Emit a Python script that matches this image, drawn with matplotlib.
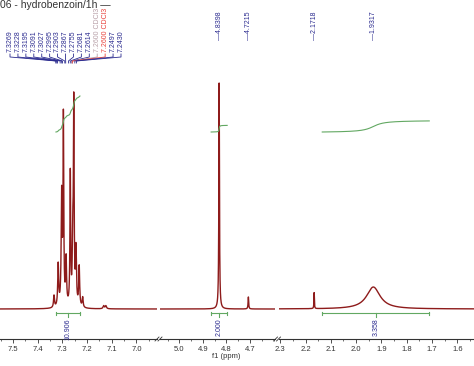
import numpy as np
import matplotlib.pyplot as plt
from matplotlib.lines import Line2D
from matplotlib.ticker import MultipleLocator

plt.rcParams['font.family'] = ['Liberation Sans', 'DejaVu Sans']

W, H = 474, 366

# peaks: ppm, height (px above baseline), width (ppm)
arom_ppm = [7.334, 7.317, 7.303, 7.296, 7.285, 7.268, 7.258, 7.254, 7.245, 7.232, 7.218, 7.133, 7.124]
arom_h = [12, 42, 110, 186, 46, 132, 60, 196, 55, 40, 10, 3, 3]
arom_w = [0.0045, 0.0045, 0.0045, 0.0035, 0.0045, 0.0035, 0.0045, 0.0035, 0.0045, 0.0045, 0.0045, 0.006, 0.006]

ch_ppm = [4.831, 4.707]
ch_h = [226, 12]
ch_w = [0.003, 0.003]

oh_ppm = [2.166, 1.932]
oh_h = [16, 22]
oh_w = [0.002, 0.065]

# peak picking labels
arom_labels = ['7.3269', '7.3228', '7.3195', '7.3091', '7.3027', '7.2995', '7.2903', '7.2867',
               '7.2755', '7.2681', '7.2614', '7.2600', '7.2600', '7.2497', '7.2430']
ch_labels = ['4.8398', '4.7215']
oh_labels = ['2.1718', '1.9317']

# integrals: (from ppm, to ppm, value)
integrals = [(7.326, 7.229, 10.906), (4.865, 4.797, 2.000), (2.134, 1.711, 3.358)]

# tick positions of each axis piece
ticks1 = [7.5, 7.4, 7.3, 7.2, 7.1, 7.0]
ticks2 = [5.0, 4.9, 4.8, 4.7]
ticks3 = [2.3, 2.2, 2.1, 2.0, 1.9, 1.8, 1.7, 1.6]

red = '#8e1b1b'
navy = '#2b2b8f'
green = '#62a862'
grey = '#333333'

base = 30      # baseline height in axis units (pixels above axis line)
int0 = 207     # start height of integral curves
px_per_unit = 3.3


def spectrum(x, ppm, h, w):
    y = np.full_like(x, base, dtype=float)
    for p, a, fw in zip(ppm, h, w):
        g = fw / 2
        y += a * g**2 / ((x - p)**2 + g**2)
    return y


fig = plt.figure(figsize=(W / 100, H / 100), dpi=100)
bottom = (H - 339) / H
height = 339 / H


def make_ax(px0, px1, xlim, ticks):
    ax = fig.add_axes([px0 / W, bottom, (px1 - px0) / W, height])
    ax.set_xlim(xlim)
    ax.set_ylim(0, 339)
    for s in ['left', 'right', 'top']:
        ax.spines[s].set_visible(False)
    ax.spines['bottom'].set_color(grey)
    ax.spines['bottom'].set_linewidth(0.8)
    ax.set_yticks([])
    ax.set_xticks(ticks)
    ax.set_xticklabels([f'{t:.1f}' for t in ticks])
    ax.xaxis.set_minor_locator(MultipleLocator(0.05))
    ax.tick_params(axis='x', which='major', length=3, width=0.6, labelsize=5.5,
                   colors=grey, pad=2)
    ax.tick_params(axis='x', which='minor', length=1.5, width=0.5, colors=grey)
    ax.patch.set_alpha(0)
    return ax


segs = [
    (0, 157, (7.5526, 6.917), ticks1, arom_ppm, arom_h, arom_w),
    (160, 275, (5.082, 4.594), ticks2, ch_ppm, ch_h, ch_w),
    (279, 474, (2.305, 1.534), ticks3, oh_ppm, oh_h, oh_w),
]

axes = []
for (px0, px1, xlim, tk, pp, hh, ww), (i0, i1, val) in zip(segs, integrals):
    ax = make_ax(px0, px1, xlim, tk)
    axes.append(ax)
    x = np.linspace(xlim[0], xlim[1], 12000)
    ax.plot(x, spectrum(x, pp, hh, ww), color=red, lw=1.0)

    # integral curve
    xi = np.linspace(i0, i1, 4000)
    yi = spectrum(xi, pp, hh, ww) - base
    cum = np.cumsum(yi)
    cum = cum / cum[-1]
    ax.plot(xi, int0 + cum * val * px_per_unit, color=green, lw=0.8)

    # integral bar
    ax.plot([i0, i1], [26, 26], color=green, lw=0.8)
    for xe in (i0, i1):
        ax.plot([xe, xe], [24.5, 27.5], color=green, lw=0.8)
    xm = (i0 + i1) / 2
    ax.plot([xm, xm], [26, 22.5], color=green, lw=0.8)
    ax.text(xm, 21, f'{val:.3f}', rotation=90, ha='center', va='top',
            fontsize=5, color=navy)

# aromatic peak labels with converging lines
ax1 = axes[0]
ppx = 247.0
lab_px = np.linspace(10, 121, len(arom_labels))
for i, (lp, lab) in enumerate(zip(lab_px, arom_labels)):
    lx = 7.5526 - lp / ppx
    peak = float(lab)
    col = navy
    txt = lab
    if i == 11:
        col = '#b8a0a8'
        txt = lab + ' CDCl3'
    elif i == 12:
        col = '#e8403a'
        txt = lab + ' CDCl3'
    ax1.text(lx, 287, txt, rotation=90, ha='center', va='bottom', fontsize=5, color=col)
    ax1.plot([lx, lx, peak, peak], [285, 282, 278, 276], color=col, lw=0.6)

for ax, pp, labs in [(axes[1], ch_ppm, ch_labels), (axes[2], oh_ppm, oh_labels)]:
    for p, lab in zip(pp, labs):
        ax.text(p, 299, '\u2014' + lab, rotation=90, ha='center', va='bottom',
                fontsize=5, color=navy)

# axis break marks
for gx in (158.5, 277):
    for dx in (-1.5, 1.5):
        fig.add_artist(Line2D([(gx + dx - 2) / W, (gx + dx + 2) / W],
                              [(H - 341) / H, (H - 337) / H], color=grey, lw=0.6))

fig.text(226 / W, (H - 356) / H, 'f1 (ppm)', ha='center', va='center', fontsize=5.5, color=grey)
fig.text(0, (H - 5) / H, '06 - hydrobenzoin/1h \u2014', ha='left', va='center',
         fontsize=7.5, color=grey)

fig.savefig('out.png', dpi=100)
